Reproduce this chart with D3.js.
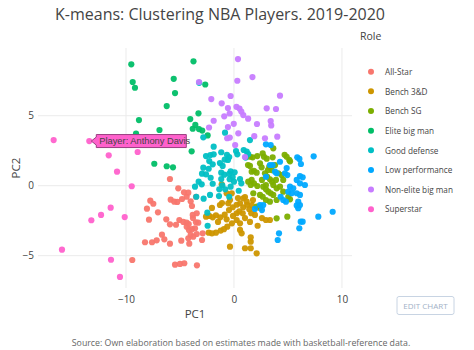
<!DOCTYPE html>
<html><head><meta charset="utf-8">
<script src="https://cdn.jsdelivr.net/npm/d3@7"></script>
<style>body{margin:0;background:#fff}svg{display:block}</style>
</head><body>
<svg id="c" width="474" height="350"></svg>
<script>
const roles = ["All-Star","Bench 3&D","Bench SG","Elite big man","Good defense","Low performance","Non-elite big man","Superstar"];
const colors = ["#F8766D","#CD9600","#7CAE00","#00BE67","#00BFC4","#00A9FF","#C77CFF","#FF61CC"];
const xTicks = [-10,0,10];
const yTicks = [-5,0,5];

const allStar = [[-5.93,0.48],[-5.16,-0.19],[-4.63,-0.47],[-4.38,-0.79],[-4.81,-0.95],[-5.86,-1.0],[-5.53,-1.14],[-5.25,-1.16],[-7.75,-1.07],[-7.47,-1.29],[-8.06,-1.64],[-7.04,-1.90],[-4.01,-1.11],[-3.52,-0.79],[-3.82,-2.09],[-3.45,-1.97],[-7.87,-2.43],[-6.27,-2.40],[-5.93,-2.76],[-5.37,-2.79],[-5.06,-2.45],[-4.69,-2.59],[-4.38,-2.64],[-4.19,-2.74],[-4.38,-2.93],[-4.17,-3.16],[-3.89,-3.11],[-3.61,-3.04],[-3.52,-2.61],[-6.67,-3.50],[-6.45,-3.83],[-8.24,-4.04],[-7.59,-4.04],[-7.16,-3.90],[-5.93,-4.14],[-4.88,-3.93],[-4.23,-3.76],[-4.01,-3.52],[-3.77,-3.64],[-3.45,-3.45],[-4.14,-4.14],[-9.42,-5.31],[-5.46,-5.64],[-5.0,-5.59],[-4.60,-5.54],[-3.43,-5.69],[-2.90,-3.40],[-2.96,-3.88],[-3.31,-2.64],[-4.23,-0.5],[-3.89,-1.45],[-3.80,-2.31]];
const bench3D = [[-2.04,-1.59],[-2.59,-2.21],[-2.29,-2.16],[-1.97,-2.26],[-1.67,-2.11],[-1.27,-2.26],[-0.86,-2.07],[-0.46,-1.74],[-0.68,-2.40],[-0.12,-1.54],[0.25,-1.36],[0.56,-1.26],[0.25,-1.97],[0.49,-1.83],[0.81,-1.97],[0.86,-1.54],[1.23,-1.36],[1.42,-1.69],[1.60,-1.97],[0.25,-2.45],[0.56,-2.69],[1.02,-2.31],[-0.19,-2.69],[-0.62,-2.93],[-0.93,-3.11],[-1.23,-3.21],[-1.67,-3.36],[-2.34,-3.36],[-2.04,-3.40],[0.56,-3.16],[0.71,-3.40],[1.55,-3.69],[1.55,-4.0],[-0.37,-4.36],[1.02,-4.47],[1.55,-4.47],[2.10,-4.83],[2.19,-2.86],[1.94,-2.09],[1.76,-1.02],[1.02,-0.81],[0.37,-0.88],[-0.37,-1.02],[-1.11,-1.24],[2.41,-1.59],[2.59,-2.31],[2.96,-2.45],[3.33,-2.45],[1.48,-2.59],[-1.14,0.10],[-0.68,-0.54],[-0.21,-0.54],[0.86,-0.90],[1.18,-1.14],[-1.30,-1.38],[-0.53,-1.26],[1.64,-1.38],[-0.09,-2.16],[-1.48,-2.59]];
const benchSG = [[1.73,2.03],[2.16,2.12],[2.66,2.31],[2.78,2.07],[3.03,1.93],[3.58,2.03],[4.69,2.21],[4.88,2.07],[5.12,1.84],[5.19,1.74],[2.41,1.60],[2.56,1.31],[3.27,1.36],[3.49,1.12],[1.85,1.07],[2.10,0.93],[2.87,0.89],[3.08,0.64],[3.33,0.46],[3.52,0.29],[3.64,0.05],[4.10,0.89],[4.42,0.76],[4.56,0.41],[1.64,0.41],[1.85,0.17],[2.16,-0.02],[2.71,-0.07],[2.96,-0.26],[3.18,-0.43],[3.40,-0.54],[3.64,-0.66],[3.95,-0.19],[4.26,-0.07],[4.56,-0.43],[2.41,-0.66],[2.66,-0.79],[2.96,-1.02],[3.33,-1.14],[3.95,-1.02],[5.03,-0.79],[5.19,-0.97],[1.48,1.41],[1.64,1.0],[1.32,0.29],[1.55,0.05],[1.79,-0.54],[2.10,-1.50],[3.95,-2.33],[4.94,-2.21],[3.64,2.67],[1.48,2.07],[3.80,1.48],[1.30,1.48],[2.96,0.05],[2.59,0.41],[3.89,0.41],[3.15,1.12]];
const eliteBig = [[-9.51,8.67],[-3.75,8.89],[-9.38,7.41],[-9.17,7.0],[-5.58,7.64],[-5.46,6.62],[-6.23,5.69],[-2.66,7.23],[-8.80,4.69],[-4.05,4.76],[-3.29,5.17],[-3.82,4.07],[-3.58,4.34],[-3.24,4.05],[-2.94,3.94],[-2.44,3.59],[-6.90,3.98],[-9.07,3.73],[-3.92,2.46],[-7.38,1.57],[-6.23,1.39],[-5.65,1.31]];
const goodDef = [[-2.84,3.46],[-0.83,3.79],[1.48,3.26],[-1.88,2.79],[0.90,2.55],[0.19,2.48],[1.18,2.44],[1.32,2.26],[-2.59,2.12],[-2.19,2.19],[-1.88,2.24],[-1.18,2.39],[-0.65,2.21],[-0.44,2.05],[-0.56,1.84],[-0.86,1.87],[0.31,2.24],[1.08,2.01],[-2.29,1.76],[-1.97,1.53],[-1.30,1.62],[-1.05,1.41],[-2.84,1.29],[-2.34,1.21],[-2.96,0.86],[-2.59,0.81],[-2.16,0.57],[-1.18,0.93],[-0.90,0.79],[-0.44,0.84],[-0.31,1.03],[0.06,0.96],[-0.12,0.62],[-0.40,0.46],[-1.18,0.48],[0.0,0.29],[0.56,0.48],[0.68,0.17],[-3.27,0.29],[-3.61,-0.07],[-2.99,0.10],[-1.97,0.14],[-1.08,0.03],[-1.36,-0.26],[-0.81,-0.26],[-0.31,-0.07],[0.44,-0.36],[-2.22,-0.66],[-1.39,-0.74],[-0.44,-0.79],[-3.49,-0.79],[-2.81,-0.93],[-2.47,-1.93],[-2.44,-2.86],[-3.22,7.35]];
const lowPerf = [[2.96,2.96],[3.40,2.91],[7.38,2.10],[5.86,2.03],[6.06,1.91],[6.20,1.55],[4.72,0.89],[4.94,0.76],[3.58,1.48],[6.11,0.69],[6.36,0.60],[5.81,0.41],[6.11,0.17],[3.80,1.0],[3.95,0.89],[2.96,0.64],[5.19,-0.07],[5.49,-0.19],[5.03,-0.43],[5.34,-0.54],[5.81,-0.54],[6.11,-0.66],[4.32,-0.79],[4.56,-1.02],[4.81,-1.14],[5.95,-1.14],[6.11,-1.38],[2.41,-1.38],[2.71,-1.38],[2.59,-1.74],[4.88,1.26],[4.26,1.71],[6.57,0.05],[5.81,-1.41],[5.95,-1.61],[6.18,-2.57],[6.36,-2.57],[6.05,-3.04],[4.17,-3.40],[4.05,-3.88],[7.81,-2.21],[9.14,-1.86],[1.94,-1.66],[3.33,1.48]];
const nonEliteBig = [[0.37,9.05],[1.71,7.76],[0.31,7.5],[-3.24,7.41],[4.26,6.43],[-0.31,6.41],[-2.10,6.19],[-1.14,5.89],[-0.56,5.55],[0.23,5.64],[0.51,5.51],[0.68,5.30],[0.86,5.05],[-0.40,5.16],[-0.90,4.96],[1.31,4.79],[3.03,5.53],[3.89,5.48],[-1.88,4.64],[-0.02,4.42],[2.13,4.41],[3.40,4.62],[3.45,4.31],[-2.31,4.16],[-0.56,4.19],[0.40,3.74],[-0.63,3.39],[-0.39,3.44],[1.88,3.54],[2.87,3.39],[4.01,3.50],[0.11,2.91],[1.02,2.05]];
const superstar = [[-16.7,3.26],[-13.4,3.19],[-11.6,2.17],[-8.92,2.41],[-10.83,1.0],[-9.47,-0.04],[-11.42,-1.57],[-12.31,-2.09],[-13.21,-2.47],[-10.12,-2.24],[-15.93,-4.57],[-11.39,-5.29],[-10.56,-6.52]];
const series = [allStar, bench3D, benchSG, eliteBig, goodDef, lowPerf, nonEliteBig, superstar];
const hoverPlayer = "Anthony Davis";
const hoverIndex = 1; // index in superstar

const svg = d3.select("#c");
const font = "'Open Sans', sans-serif";
const m = {l:38, r:352, t:48, b:288};
const x = d3.scaleLinear().domain([-18.15, 10.93]).range([m.l, m.r]);
const y = d3.scaleLinear().domain([-7.31, 9.84]).range([m.b, m.t]);

// grid
const g = svg.append("g");
g.selectAll("line.vx").data(xTicks).join("line")
  .attr("x1", d=>x(d)).attr("x2", d=>x(d)).attr("y1", m.t).attr("y2", m.b)
  .attr("stroke", "#ebebeb").attr("stroke-width", 1);
g.selectAll("line.hy").data(yTicks).join("line")
  .attr("y1", d=>y(d)).attr("y2", d=>y(d)).attr("x1", m.l).attr("x2", m.r)
  .attr("stroke", "#ebebeb").attr("stroke-width", 1);

// axes
const xAxis = d3.axisBottom(x).tickValues(xTicks).tickSize(0).tickPadding(8).tickFormat(d3.format("d"));
const xg = svg.append("g").attr("transform", `translate(0,${m.b})`).call(xAxis);
xg.select(".domain").remove();
xg.selectAll("text").attr("font-family", font).attr("font-size", 10).attr("fill", "#444");
const yAxis = d3.axisLeft(y).tickValues(yTicks).tickSize(0).tickPadding(4).tickFormat(d3.format("d"));
const yg = svg.append("g").attr("transform", `translate(${m.l},0)`).call(yAxis);
yg.select(".domain").remove();
yg.selectAll("text").attr("font-family", font).attr("font-size", 10).attr("fill", "#444");

// points
series.forEach((pts, i) => {
  svg.append("g").selectAll("circle").data(pts).join("circle")
    .attr("cx", d=>x(d[0])).attr("cy", d=>y(d[1])).attr("r", 3.1)
    .attr("fill", colors[i]).attr("fill-opacity", 0.95);
});

// title
svg.append("text").attr("x", 220).attr("y", 20).attr("text-anchor", "middle")
  .attr("font-family", font).attr("font-size", 16).attr("fill", "#444")
  .text("K-means: Clustering NBA Players. 2019-2020");

// axis titles
svg.append("text").attr("x", (m.l+m.r)/2).attr("y", 318).attr("text-anchor", "middle")
  .attr("font-family", font).attr("font-size", 11.5).attr("fill", "#444").text("PC1");
svg.append("text").attr("transform", `translate(20,${(m.t+m.b)/2}) rotate(-90)`).attr("text-anchor", "middle")
  .attr("font-family", font).attr("font-size", 11.5).attr("fill", "#444").text("PC2");

// legend
svg.append("text").attr("x", 360).attr("y", 40).attr("font-family", font).attr("font-size", 10.5).attr("fill", "#444").text("Role");
const lg = svg.append("g").selectAll("g").data(roles).join("g")
  .attr("transform", (d,i)=>`translate(371,${71.7 + i*19.65})`);
lg.append("circle").attr("r", 3).attr("fill", (d,i)=>colors[i]);
lg.append("text").attr("x", 14).attr("y", 3.2).attr("font-family", font).attr("font-size", 8.2).attr("fill", "#444").text(d=>d);

// hover label
const hp = superstar[hoverIndex];
const hx = x(hp[0]), hy = y(hp[1]);
const hl = svg.append("g");
const bx = hx + 7, bw = 90, bh = 13;
hl.append("path")
  .attr("d", `M${hx+2},${hy} L${bx},${hy-4} L${bx},${hy-bh/2} L${bx+bw},${hy-bh/2} L${bx+bw},${hy+bh/2} L${bx},${hy+bh/2} L${bx},${hy+4} Z`)
  .attr("fill", "#FF61CC").attr("stroke", "#9a3f80").attr("stroke-width", 1);
hl.append("text").attr("x", bx+3).attr("y", hy+3.3).attr("font-family", "Arial, 'Liberation Sans', sans-serif")
  .attr("font-size", 9.3).attr("fill", "#444").text("Player: " + hoverPlayer);

// edit chart button
svg.append("rect").attr("x", 397).attr("y", 296.5).attr("width", 57).attr("height", 18).attr("rx", 2)
  .attr("fill", "#fff").attr("stroke", "#c8d4e3");
svg.append("text").attr("x", 425.5).attr("y", 308.5).attr("text-anchor", "middle").attr("font-family", font)
  .attr("font-size", 8).attr("fill", "#a2b1c6").text("EDIT CHART");

// source
svg.append("text").attr("x", 241).attr("y", 346).attr("text-anchor", "middle").attr("font-family", font)
  .attr("font-size", 8.8).attr("fill", "#666")
  .text("Source: Own elaboration based on estimates made with basketball-reference data.");
</script>
</body></html>
